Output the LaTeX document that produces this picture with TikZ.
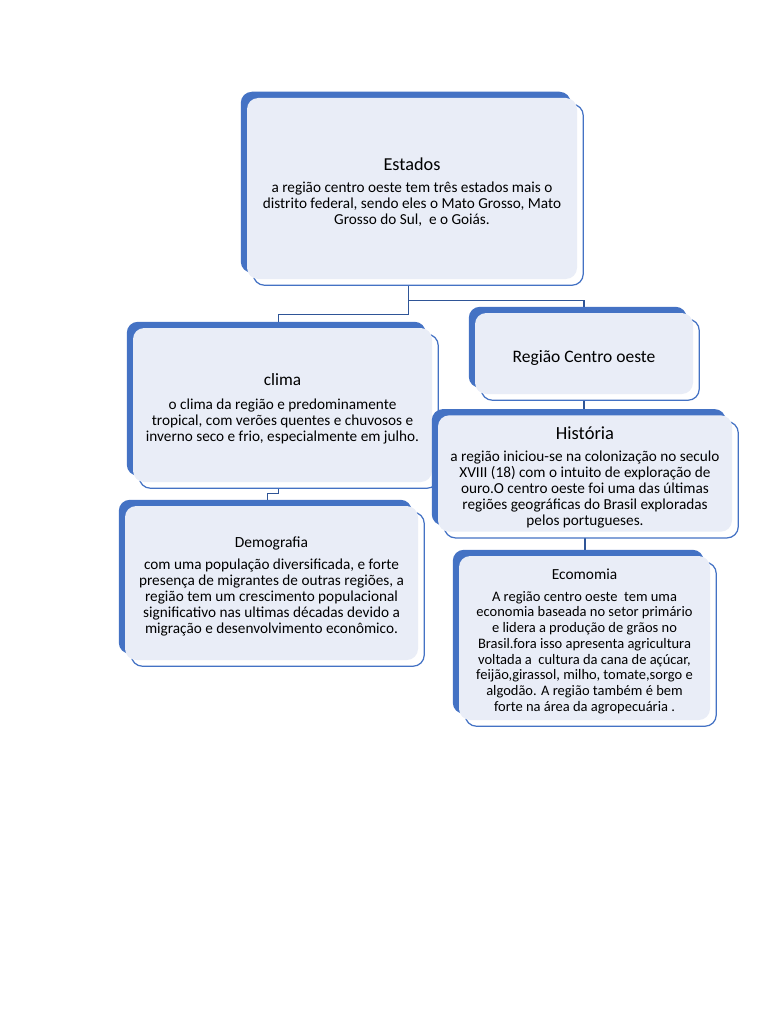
\documentclass[tikz,border=0pt]{standalone}
\usepackage{fontspec}
\setmainfont{Carlito}
\usetikzlibrary{shadows}
\usetikzlibrary{backgrounds}

\definecolor{boxblue}{HTML}{4472C4}
\definecolor{boxfill}{HTML}{E9EDF7}
\definecolor{linkblue}{HTML}{2F5597}

\tikzset{
	card/.style={fill=boxfill, rounded corners=9pt, align=center, inner sep=3pt,
		general shadow={fill=boxblue, shadow xshift=-5pt, shadow yshift=5pt},
		general shadow={fill=white, draw=boxblue, line width=1pt, shadow xshift=5pt, shadow yshift=-5pt},
		font=\fontsize{12.2}{12.8}\selectfont},
	link/.style={draw=linkblue, line width=1pt}
}

\begin{document}
\begin{tikzpicture}[x=0.8pt, y=-0.8pt]
		\useasboundingbox (0,0) rectangle (768,1024);
		
		% draw boxes
		\node[card, minimum width=264pt, minimum height=144.8pt] (est) at (412,188.5)
		{\rule{0pt}{16pt}{\fontsize{14.6}{15}\selectfont Estados}\\[5pt]
		a região centro oeste tem três estados mais o\\
		distrito federal, sendo eles o Mato Grosso, Mato\\
		Grosso do Sul, \ e o Goiás.};
		\node[card, minimum width=239.2pt, minimum height=123.2pt] (cli) at (282.5,405)
		{\rule{0pt}{16pt}{\fontsize{13.8}{15}\selectfont clima}\\[6pt]
		o clima da região e predominamente\\
		tropical, com verões quentes e chuvosos e\\
		inverno seco e frio, especialmente em julho.};
		\node[card, minimum width=174.4pt, minimum height=64.8pt] (reg) at (584,353.5)
		{\rule{0pt}{17pt}{\fontsize{14}{16}\selectfont Região Centro oeste}};
		\node[card, minimum width=235.2pt, minimum height=90.4pt] (his) at (585,473.5)
		{\rule{0pt}{16pt}{\fontsize{14.8}{15}\selectfont História}\\[5pt]
		a região iniciou-se na colonização no seculo\\
		XVIII (18) com o intuito de exploração de\\
		ouro.O centro oeste foi uma das últimas\\
		regiões geográficas do Brasil exploradas\\
		pelos portugueses.};
		\node[card, minimum width=234.4pt, minimum height=123.2pt] (dem) at (271.5,583)
		{\rule{0pt}{13.5pt}{\fontsize{12.4}{13}\selectfont Demografia}\\[5pt]
		com uma população diversificada, e forte\\
		presença de migrantes de outras regiões, a\\
		região tem um crescimento populacional\\
		significativo nas ultimas décadas devido a\\
		migração e desenvolvimento econômico.};
		\node[card, minimum width=200.8pt, minimum height=131.2pt,
			font=\fontsize{11.6}{12.6}\selectfont] (eco) at (584.5,638)
		{\rule{0pt}{13.5pt}{\fontsize{12.3}{13}\selectfont Ecomomia}\\[5pt]
		A região centro oeste \ tem uma\\
		economia baseada no setor primário\\
		e lidera a produção de grãos no\\
		Brasil.fora isso apresenta agricultura\\
		voltada a \ cultura da cana de açúcar,\\
		feijão,girassol, milho, tomate,sorgo e\\
		algodão. A região também é bem\\
		forte na área da agropecuária .};
		
		% draw connectors
		\begin{scope}[on background layer]
		\draw[link] ([xshift=-3pt]est.south) -- ++(0,21) -| (reg.north);
		\draw[link] ([xshift=-3pt]est.south) -- ++(0,35) -| ([xshift=-3pt]cli.north);
		\draw[link] ([xshift=-3pt]cli.south) -- ++(0,11) -| ([xshift=-3pt]dem.north);
		\draw[link] (reg.south) -- (reg.south |- his.north);
		\draw[link] (his.south) -- (his.south |- eco.north);
		\end{scope}
		
\end{tikzpicture}
\end{document}
